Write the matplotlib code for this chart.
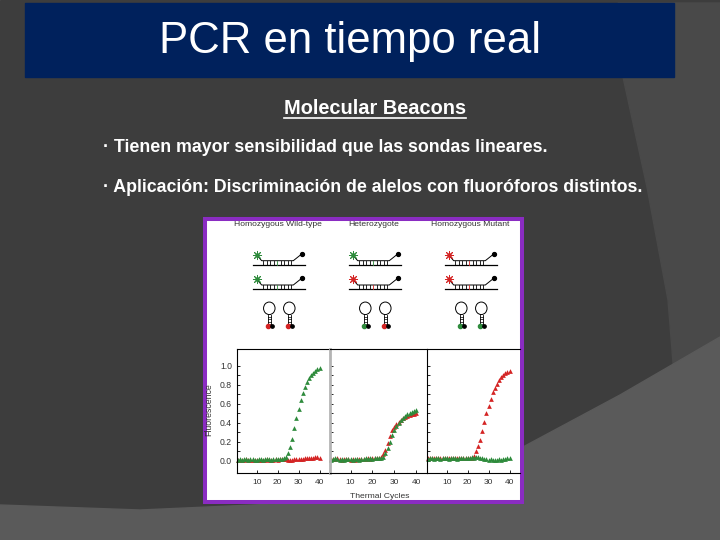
import matplotlib
matplotlib.use('Agg')
import matplotlib.pyplot as plt
from matplotlib.patches import Rectangle, Polygon, Ellipse

# ---- data ----
cycles = list(range(1, 41))

columns = ['Homozygous Wild-type', 'Heterozygote', 'Homozygous Mutant']
probe_colors = [['g', 'g'], ['g', 'r'], ['r', 'r']]
hairpin_colors = [['r', 'r'], ['g', 'r'], ['g', 'g']]

wt_green = [0.015, 0.02, 0.015, 0.02, 0.025, 0.015, 0.02, 0.02, 0.01, 0.015,
            0.02, 0.02, 0.015, 0.02, 0.025, 0.02, 0.015, 0.02, 0.025, 0.02,
            0.025, 0.025, 0.03, 0.045, 0.08, 0.15, 0.23, 0.35, 0.45, 0.55,
            0.64, 0.71, 0.78, 0.83, 0.87, 0.90, 0.92, 0.94, 0.96, 0.98]
wt_red = [0.01, 0.015, 0.01, 0.015, 0.02, 0.01, 0.015, 0.015, 0.01, 0.01,
          0.015, 0.015, 0.01, 0.015, 0.02, 0.015, 0.01, 0.015, 0.02, 0.015,
          0.02, 0.02, 0.02, 0.02, 0.015, 0.01, 0.015, 0.02, 0.02, 0.02,
          0.025, 0.025, 0.03, 0.03, 0.03, 0.035, 0.035, 0.04, 0.04, 0.035]

het_red = [0.02, 0.025, 0.02, 0.03, 0.02, 0.015, 0.025, 0.02, 0.02, 0.015,
           0.02, 0.015, 0.02, 0.02, 0.025, 0.02, 0.025, 0.03, 0.025, 0.03,
           0.03, 0.03, 0.035, 0.04, 0.07, 0.12, 0.19, 0.26, 0.32, 0.36,
           0.39, 0.41, 0.43, 0.45, 0.46, 0.47, 0.48, 0.49, 0.495, 0.50]
het_green = [0.015, 0.025, 0.03, 0.02, 0.015, 0.025, 0.01, 0.02, 0.025, 0.02,
             0.015, 0.02, 0.02, 0.015, 0.025, 0.02, 0.03, 0.025, 0.03, 0.025,
             0.03, 0.035, 0.03, 0.035, 0.045, 0.08, 0.14, 0.20, 0.27, 0.33,
             0.37, 0.40, 0.43, 0.45, 0.47, 0.49, 0.50, 0.51, 0.52, 0.53]

mut_red = [0.03, 0.03, 0.03, 0.03, 0.03, 0.03, 0.03, 0.03, 0.03, 0.03,
           0.03, 0.03, 0.03, 0.03, 0.03, 0.03, 0.03, 0.03, 0.03, 0.03,
           0.03, 0.035, 0.05, 0.10, 0.16, 0.22, 0.31, 0.41, 0.50, 0.58,
           0.65, 0.72, 0.77, 0.81, 0.85, 0.88, 0.90, 0.92, 0.93, 0.94]
mut_green = [0.02, 0.035, 0.03, 0.025, 0.03, 0.035, 0.025, 0.03, 0.035, 0.03,
             0.025, 0.03, 0.035, 0.03, 0.025, 0.03, 0.035, 0.03, 0.03, 0.035,
             0.03, 0.04, 0.035, 0.04, 0.045, 0.035, 0.03, 0.025, 0.02, 0.015,
             0.02, 0.015, 0.01, 0.015, 0.02, 0.015, 0.02, 0.025, 0.03, 0.03]

panel_data = [(wt_red, wt_green), (het_red, het_green), (mut_red, mut_green)]

GREEN = '#2e8b3c'
RED = '#d42424'
col = {'g': GREEN, 'r': RED}

fig = plt.figure(figsize=(7.2, 5.4), dpi=100)
bg = fig.add_axes([0, 0, 1, 1])
bg.set_xlim(0, 720)
bg.set_ylim(540, 0)
bg.axis('off')

# slide background
bg.add_patch(Rectangle((0, 0), 720, 540, color='#3d3d3d', zorder=0))
bg.add_patch(Polygon([(618, 3), (623, 77), (647, 187), (668, 300), (676, 400),
                      (720, 400), (720, 3)], closed=True, color='#494949', zorder=1))
bg.add_patch(Polygon([(0, 505), (140, 510), (275, 504), (400, 480), (523, 447),
                      (620, 395), (720, 337), (720, 540), (0, 540)],
                     closed=True, color='#5a5a5a', zorder=2))

# title bar
bg.add_patch(Rectangle((25, 3), 649, 74, color='#00215c', zorder=3))
bg.text(350, 41, 'PCR en tiempo real', color='white', fontsize=31.5,
        family='Liberation Sans', ha='center', va='center', zorder=4)

bg.text(375, 108, 'Molecular Beacons', color='white', fontsize=14.4,
        family='Liberation Sans', weight='bold', ha='center', va='center', zorder=4)
bg.plot([284, 466], [118, 118], color='white', lw=1.2, zorder=4)

bg.text(103, 147, '· Tienen mayor sensibilidad que las sondas lineares.',
        color='white', fontsize=12.8, family='Liberation Sans', weight='bold',
        ha='left', va='center', zorder=4)
bg.text(103, 188, '· Aplicación: Discriminación de alelos con fluoróforos distintos.',
        color='white', fontsize=12.8, family='Liberation Sans', weight='bold',
        ha='left', va='center', zorder=4)

# figure image box
bg.add_patch(Rectangle((205, 219), 317, 283, facecolor='white',
                       edgecolor='#8a2cc2', lw=2.9, zorder=5))

TXT = '#333333'


def draw_duplex(x0, y, c):
    # probe bound on target strand
    bg.plot([x0 + 3.4, x0 + 8.4, x0 + 40, x0 + 48.4],
            [y, y + 5.7, y + 5.7, y - 1], color='black', lw=0.7, zorder=6)
    bg.plot([x0, x0 + 51.7], [y + 10, y + 10], color='black', lw=0.9, zorder=6)
    for k in range(9):
        xr = x0 + 10 + k * 3.5
        bg.plot([xr, xr], [y + 5.7, y + 10], lw=0.6, zorder=6,
                color=col[c] if k == 4 else 'black')
    bg.plot(x0 + 3.4, y, marker=(8, 2, 0), ms=6.5, color=col[c], mew=0.7, zorder=7)
    bg.plot(x0 + 3.4, y, 'o', ms=2.2, color=col[c], zorder=7)
    bg.plot(x0 + 48.4, y - 1, 'o', ms=2.8, color='black', zorder=7)


def draw_hairpin(xc, c):
    bg.add_patch(Ellipse((xc, 308.3), 11.5, 12.5, fill=False, edgecolor='black',
                         lw=0.7, zorder=6))
    bg.plot([xc - 1.6, xc - 1.6], [314.5, 326], color='black', lw=0.6, zorder=6)
    bg.plot([xc + 1.6, xc + 1.6], [314.5, 326], color='black', lw=0.6, zorder=6)
    for k in range(4):
        yr = 316.5 + k * 2.5
        bg.plot([xc - 1.6, xc + 1.6], [yr, yr], color='black', lw=0.5, zorder=6)
    bg.plot(xc - 1.6, 326, 'o', ms=3, color=col[c], zorder=7)
    bg.plot(xc + 2.4, 326, 'o', ms=2.4, color='black', zorder=7)


for i, name in enumerate(columns):
    dx = 96 * i
    bg.text(278 + dx, 224.5, name, fontsize=6.1, color=TXT, ha='center',
            va='center', family='Liberation Sans', zorder=6)
    draw_duplex(253.3 + dx, 255, probe_colors[i][0])
    draw_duplex(253.3 + dx, 279.3, probe_colors[i][1])
    draw_hairpin(269.3 + dx, hairpin_colors[i][0])
    draw_hairpin(289.3 + dx, hairpin_colors[i][1])

bg.text(208.5, 410, 'Fluorescence', rotation=90, fontsize=6.3, color=TXT,
        ha='center', va='center', family='Liberation Sans', zorder=6)
bg.text(380, 497, 'Thermal Cycles', fontsize=6.1, color=TXT,
        ha='center', va='center', family='Liberation Sans', zorder=6)

# amplification panels
edges = [237, 330, 427, 520]
top, bottom = 349, 473
left_spine = [('black', 0.8), ('#b4b4b4', 2.0), ('black', 0.8)]
for i, (red, green) in enumerate(panel_data):
    x0, x1 = edges[i], edges[i + 1]
    ax = fig.add_axes([x0 / 720, 1 - bottom / 540, (x1 - x0) / 720, (bottom - top) / 540])
    ax.set_facecolor('white')
    ax.plot(cycles, red, '^', color=RED, ms=3.4, mew=0, clip_on=False)
    ax.plot(cycles, green, '^', color=GREEN, ms=3.4, mew=0, clip_on=False)
    ax.set_xlim(0.6, 45)
    ax.set_ylim(-0.126, 1.175)
    ax.spines['right'].set_visible(False)
    ax.spines['top'].set_linewidth(0.8)
    ax.spines['bottom'].set_linewidth(0.8)
    ax.spines['left'].set_color(left_spine[i][0])
    ax.spines['left'].set_linewidth(left_spine[i][1])
    ax.set_xticks([10, 20, 30, 40])
    ax.tick_params(axis='x', direction='in', length=2.5, width=0.6,
                   labelsize=6, labelcolor=TXT, pad=4)
    if i == 0:
        ax.set_yticks([0.0, 0.2, 0.4, 0.6, 0.8, 1.0])
        ax.set_yticks([0.1, 0.3, 0.5, 0.7, 0.9], minor=True)
        ax.set_yticklabels(['0.0', '0.2', '0.4', '0.6', '0.8', '1.0'])
    else:
        ax.set_yticks([k / 10 for k in range(11)])
        ax.set_yticklabels([])
    ax.tick_params(axis='y', which='both', direction='in', length=2.5, width=0.6,
                   labelsize=6.2, labelcolor=TXT, pad=3.6)
    ax.tick_params(axis='y', which='minor', length=1.8)
    for lab in ax.get_xticklabels() + ax.get_yticklabels():
        lab.set_family('Liberation Sans')

fig.savefig('out.png', dpi=100)
